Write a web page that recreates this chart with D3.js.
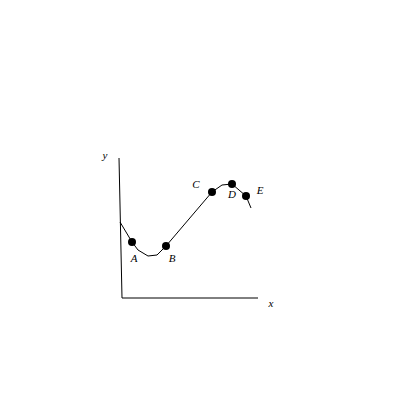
<!DOCTYPE html>
<html><head><script src="https://cdn.jsdelivr.net/npm/d3@7"></script>
<style>body{margin:0;background:#fff}</style></head>
<body><svg id="main-svg" width="400" height="400"></svg>
<script>
// curve (data units, origin at axes corner)
const curveX = [-2, 10, 16, 26, 35, 44, 90, 100, 110, 124, 129];
const curveY = [76, 56, 48, 42, 43, 52, 106, 113, 114, 102, 90];
const pointNames = ["A", "B", "C", "D", "E"];
const pointX = [10, 44, 90, 110, 124];
const pointY = [56, 52, 106, 114, 102];
const labelDx = [2, 6, -16, 0, 14];
const labelDy = [20, 16, -4, 14, -2];

const svg = d3.select("#main-svg");
const x = d3.scaleLinear().domain([0, 136]).range([122, 258]);
const y = d3.scaleLinear().domain([0, 140]).range([298, 158]);

// axes (y axis leans slightly like the original sketch)
svg.append("line").attr("x1", x(-3)).attr("y1", y(140)).attr("x2", x(0)).attr("y2", y(0))
    .attr("stroke", "#000").attr("stroke-width", 1);
svg.append("line").attr("x1", x(0)).attr("y1", y(0)).attr("x2", x(136)).attr("y2", y(0))
    .attr("stroke", "#000").attr("stroke-width", 1);

const line = d3.line().x((d, i) => x(curveX[i])).y(d => y(d));
svg.append("path").attr("d", line(curveY)).attr("fill", "none")
    .attr("stroke", "#000").attr("stroke-width", 1);

svg.selectAll(".pt").data(pointNames).enter().append("circle")
    .attr("cx", (d, i) => x(pointX[i])).attr("cy", (d, i) => y(pointY[i]))
    .attr("r", 4).attr("fill", "#000");

const font = "'Liberation Serif', 'DejaVu Serif', serif";
svg.selectAll(".lbl").data(pointNames).enter().append("text")
    .attr("x", (d, i) => x(pointX[i]) + labelDx[i]).attr("y", (d, i) => y(pointY[i]) + labelDy[i])
    .attr("text-anchor", "middle").attr("font-family", font).attr("font-style", "italic")
    .attr("font-size", 11).text(d => d);

svg.append("text").attr("x", 271).attr("y", 307).attr("text-anchor", "middle")
    .attr("font-family", font).attr("font-style", "italic").attr("font-size", 11).text("x");
svg.append("text").attr("x", 105).attr("y", 159).attr("text-anchor", "middle")
    .attr("font-family", font).attr("font-style", "italic").attr("font-size", 11).text("y");
</script></body></html>
